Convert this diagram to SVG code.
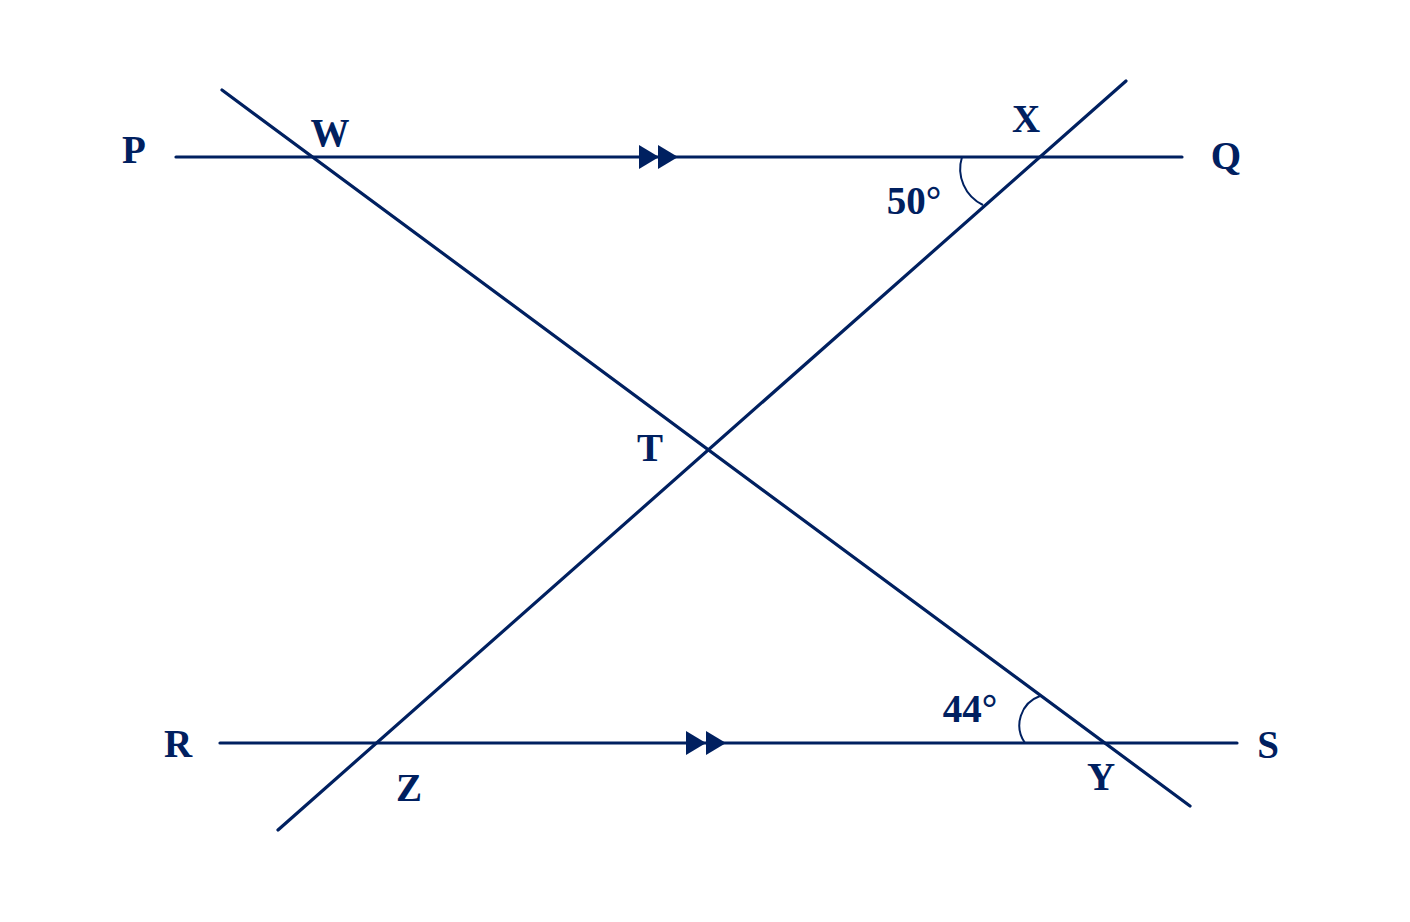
<svg xmlns="http://www.w3.org/2000/svg" width="1410" height="922" viewBox="0 0 1410 922">
<style>
.ln{stroke:#002060;stroke-width:3.2;fill:none;stroke-linecap:round}
.arc{stroke:#002060;stroke-width:2;fill:none}
.ah{fill:#002060}
text{font-family:"Liberation Serif","Times New Roman",serif;font-weight:bold;font-size:39px;fill:#002060;text-anchor:middle}
</style>
<rect width="1410" height="922" fill="#ffffff"/>
<g id="connectors">
<line class="ln" x1="176" y1="157" x2="1182" y2="157"/>
<line class="ln" x1="220" y1="743" x2="1237" y2="743"/>
<line class="ln" x1="222" y1="90" x2="1190" y2="806"/>
<line class="ln" x1="1126" y1="81" x2="278" y2="830"/>
</g>
<g id="parallel-marks">
<polygon class="ah" points="639,145 659,157 639,169"/>
<polygon class="ah" points="658,145 678,157 658,169"/>
<polygon class="ah" points="686,731 706,743 686,755"/>
<polygon class="ah" points="706,731 726,743 706,755"/>
</g>
<g id="angle-X">
<path class="arc" d="M 962 157 A 40 40 0 0 0 983 205"/>
<text x="914" y="214">50°</text>
</g>
<g id="angle-Y">
<path class="arc" d="M 1040 696 A 31 31 0 0 0 1025 743"/>
<text x="970" y="722">44°</text>
</g>
<g id="label-P"><text x="134" y="163">P</text></g>
<g id="label-W"><text x="330" y="146">W</text></g>
<g id="label-X"><text x="1026" y="132">X</text></g>
<g id="label-Q"><text x="1226" y="169">Q</text></g>
<g id="label-T"><text x="650" y="461">T</text></g>
<g id="label-R"><text x="178" y="757">R</text></g>
<g id="label-S"><text x="1268" y="758">S</text></g>
<g id="label-Z"><text x="409" y="801">Z</text></g>
<g id="label-Y"><text x="1101" y="790">Y</text></g>
</svg>
